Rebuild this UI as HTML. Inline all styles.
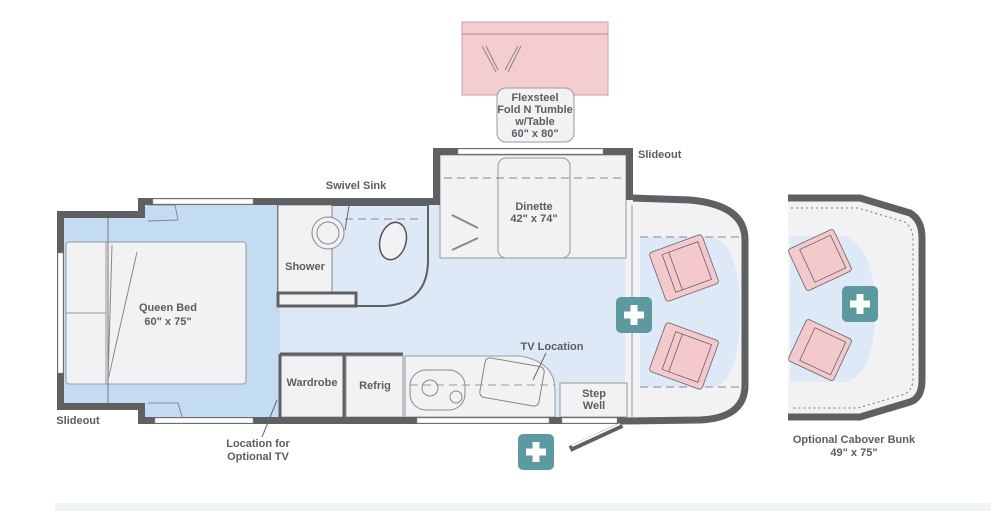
<!DOCTYPE html>
<html><head><meta charset="utf-8"><style>
html,body{margin:0;padding:0;background:#fff;width:991px;height:511px;overflow:hidden}
svg{display:block}
text{font-family:"Liberation Sans Narrow","Liberation Sans",sans-serif;font-weight:bold;fill:#5c5d60;font-size:11px;text-anchor:middle}
</style></head><body>
<svg width="991" height="511" viewBox="0 0 991 511">
<rect x="55" y="503" width="936" height="8" fill="#eef5f3"/>
<!-- Flexsteel top -->
<rect x="462" y="22" width="146" height="73" fill="#f4cdd1" stroke="#c9a2a6"/>
<line x1="462" y1="34" x2="608" y2="34" stroke="#b88"/>
<path d="M482 46 L496 72 M486 46 L498 70 M521 46 L508 72 M518 46 L505 70" stroke="#888" stroke-width="1"/>
<rect x="497" y="88" width="77" height="54" rx="9" fill="#f2f2f4" stroke="#999"/>
<text x="535" y="101">Flexsteel</text>
<text x="535" y="113">Fold N Tumble</text>
<text x="535" y="125">w/Table</text>
<text x="535" y="137">60" x 80"</text>
<!-- interior fills -->
<rect x="145" y="205" width="135" height="212" fill="#c4dcf3"/>
<rect x="280" y="205" width="355" height="212" fill="#dde9f7"/>
<rect x="64" y="218" width="81" height="185" fill="#c4dcf3"/>
<!-- cab front -->
<path d="M633 198 L690 200 Q745 205 745 240 L745 385 Q745 418 700 420 L625 421 L625 198 Z" fill="#f2f2f4"/>
<path d="M640 237 L715 237 Q740 250 740 310 Q740 380 715 387 L640 387 Z" fill="#dde9f7"/>
<path d="M633 198 L690 200 Q745 205 745 240 L745 385 Q745 418 700 420 L622 421" fill="none" stroke="#5f6062" stroke-width="7"/>
<path d="M640 237 L745 237 M640 387 L745 387" stroke="#888" stroke-dasharray="8 5" fill="none"/>
<line x1="632" y1="205" x2="632" y2="417" stroke="#999"/>
<!-- dinette -->
<rect x="440" y="155" width="186" height="103" fill="#f2f2f4" stroke="#999"/>
<rect x="498" y="158" width="72" height="100" rx="8" fill="#f2f2f4" stroke="#999"/>
<line x1="444" y1="178" x2="622" y2="178" stroke="#888" stroke-dasharray="8 5"/>
<path d="M452 215 L478 228 M452 250 L478 238" stroke="#888" stroke-width="2"/>
<text x="534" y="210">Dinette</text>
<text x="534" y="222">42" x 74"</text>
<!-- bath -->
<path d="M278 205 L428 205 L428 260 Q428 303 385 306 L278 306 Z" fill="#dde9f7" stroke="#5f6062" stroke-width="2"/>
<rect x="278" y="205" width="54" height="88" fill="#f2f2f4" stroke="#888"/>
<rect x="278" y="293" width="78" height="13" fill="#f2f2f4" stroke="#5f6062" stroke-width="3"/>
<circle cx="328" cy="233" r="16" fill="#f2f2f4" stroke="#888"/><circle cx="328" cy="233" r="11" fill="none" stroke="#888"/>
<ellipse cx="393" cy="241" rx="13" ry="19" fill="#f2f2f4" stroke="#555" stroke-width="1.5" transform="rotate(15 393 241)"/>
<line x1="345" y1="219" x2="422" y2="219" stroke="#888" stroke-dasharray="8 5"/>
<line x1="350" y1="200" x2="345" y2="230" stroke="#666"/>
<text x="305" y="270">Shower</text>
<text x="356" y="189">Swivel Sink</text>
<!-- bed -->
<rect x="66" y="242" width="180" height="142" rx="3" fill="#f2f2f4" stroke="#999"/>
<line x1="106" y1="242" x2="106" y2="384" stroke="#999"/>
<line x1="66" y1="313" x2="106" y2="313" stroke="#999"/>
<line x1="108" y1="218" x2="108" y2="403" stroke="#777"/>
<path d="M112 245 L108 380 L137 252" fill="none" stroke="#888"/>
<path d="M148 205 L175 205 L178 220 L148 221 M148 403 L178 403 L182 417" fill="none" stroke="#888"/>
<text x="168" y="311">Queen Bed</text>
<text x="168" y="325">60" x 75"</text>
<!-- galley -->
<rect x="281" y="356" width="62" height="61" fill="#f2f2f4" stroke="#999"/>
<rect x="346" y="356" width="57" height="61" fill="#f2f2f4" stroke="#999"/>
<path d="M405 356 L520 356 Q555 362 555 390 L555 417 L405 417 Z" fill="#f2f2f4" stroke="#999"/>
<rect x="560" y="383" width="67" height="34" fill="#f2f2f4" stroke="#999"/>
<line x1="280" y1="354" x2="403" y2="354" stroke="#5f6062" stroke-width="3"/>
<line x1="344" y1="354" x2="344" y2="417" stroke="#5f6062" stroke-width="3"/>
<line x1="280" y1="354" x2="280" y2="417" stroke="#5f6062" stroke-width="3"/>
<rect x="410" y="370" width="55" height="40" rx="16" fill="none" stroke="#888"/>
<circle cx="430" cy="388" r="8" fill="none" stroke="#888"/><circle cx="456" cy="397" r="6" fill="none" stroke="#888"/>
<rect x="482" y="362" width="60" height="40" rx="5" fill="none" stroke="#888" transform="rotate(10 512 382)"/>
<line x1="410" y1="385" x2="555" y2="385" stroke="#999" stroke-dasharray="8 5"/>
<text x="312" y="386">Wardrobe</text>
<text x="375" y="389">Refrig</text>
<text x="594" y="397">Step</text>
<text x="594" y="409">Well</text>
<text x="552" y="350">TV Location</text>
<line x1="546" y1="353" x2="533" y2="380" stroke="#666"/>
<!-- walls -->
<g fill="#5f6062">
<rect x="138" y="198" width="300" height="7"/>
<rect x="138" y="198" width="7" height="20"/>
<rect x="57" y="211" width="88" height="7"/>
<rect x="57" y="211" width="7" height="199"/>
<rect x="57" y="403" width="88" height="7"/>
<rect x="138" y="403" width="7" height="21"/>
<rect x="138" y="417" width="486" height="7"/>
<rect x="433" y="148" width="7" height="57"/>
<rect x="433" y="148" width="200" height="7"/>
<rect x="626" y="148" width="7" height="52"/>
</g>
<g fill="#fff" stroke="#999" stroke-width="0.5">
<rect x="153" y="199" width="100" height="5"/>
<rect x="155" y="418" width="98" height="5"/>
<rect x="58" y="253" width="5" height="120"/>
<rect x="458" y="149" width="145" height="5"/>
<rect x="417" y="418" width="132" height="5"/>
<rect x="562" y="418" width="55" height="5"/>
</g>
<!-- door -->
<path d="M570 449 L622 425" stroke="#5f6062" stroke-width="6"/>
<path d="M572 446 L620 424" stroke="#fff" stroke-width="2"/>
<!-- chairs -->
<g fill="#f3c9cd" stroke="#666" stroke-width="0.8">
<g transform="rotate(-20 684 268)"><rect x="656" y="242" width="56" height="52" rx="3"/><rect x="668" y="248" width="38" height="40"/><line x1="675" y1="248" x2="675" y2="288"/></g>
<g transform="rotate(20 684 356)"><rect x="656" y="330" width="56" height="52" rx="3"/><rect x="668" y="336" width="38" height="40"/><line x1="675" y1="336" x2="675" y2="376"/></g>
</g>
<text x="638" y="158" style="text-anchor:start">Slideout</text>
<text x="78" y="424">Slideout</text>
<text x="258" y="447">Location for</text>
<text x="258" y="460">Optional TV</text>
<line x1="277" y1="400" x2="262" y2="437" stroke="#666"/>
<!-- cabover -->
<path d="M788 198 L860 198 L910 213 Q922 220 922 238 L922 380 Q922 398 910 402 L860 417 L788 417 Z" fill="#f2f2f4"/>
<path d="M790 236 L845 236 Q875 250 875 310 Q875 375 845 382 L790 382 Z" fill="#dde9f7"/>
<path d="M788 198 L860 198 L910 213 Q922 220 922 238 L922 380 Q922 398 910 402 L860 417 L788 417" fill="none" stroke="#5f6062" stroke-width="7"/>
<path d="M791 208 L858 208 L905 222 Q913 228 913 240 L913 378 Q913 390 905 394 L858 408 L791 408" fill="none" stroke="#777" stroke-dasharray="2 3"/>
<g fill="#f3c9cd" stroke="#666" stroke-width="0.8">
<g transform="rotate(-25 820 260)"><rect x="795" y="237" width="50" height="46" rx="3"/><rect x="806" y="242" width="34" height="36"/></g>
<g transform="rotate(25 820 350)"><rect x="795" y="327" width="50" height="46" rx="3"/><rect x="806" y="332" width="34" height="36"/></g>
</g>
<text x="854" y="443">Optional Cabover Bunk</text>
<text x="854" y="456">49" x 75"</text>
<!-- plus buttons -->
<g>
<rect x="616" y="297" width="36" height="36" rx="5" fill="#5c9aa0"/><path d="M634 305 V325 M624 315 H644" stroke="#fff" stroke-width="7"/>
<rect x="518" y="434" width="36" height="36" rx="5" fill="#5c9aa0"/><path d="M536 442 V462 M526 452 H546" stroke="#fff" stroke-width="7"/>
<rect x="842" y="286" width="36" height="36" rx="5" fill="#5c9aa0"/><path d="M860 294 V314 M850 304 H870" stroke="#fff" stroke-width="7"/>
</g>
</svg>
</body></html>
